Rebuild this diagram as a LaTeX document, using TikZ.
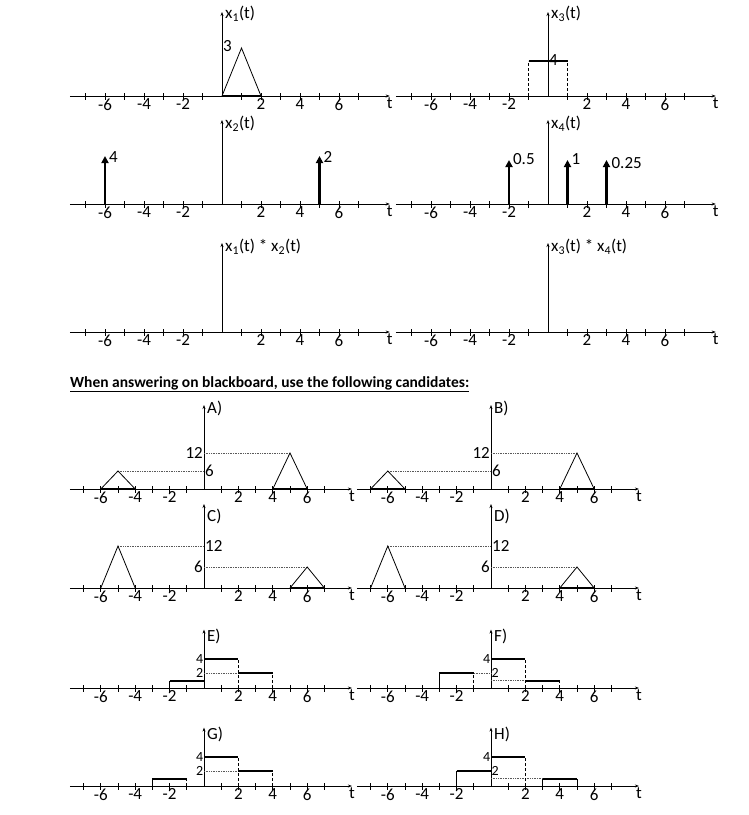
\documentclass[tikz,border=0pt]{standalone}
\usepackage{fontspec}
\setmainfont{Carlito}
\usetikzlibrary{arrows.meta}
\tikzset{
  ax/.style={line width=0.6pt,-{Stealth[length=4pt,width=3pt]}},
  tk/.style={line width=1pt},
  sig/.style={line width=0.8pt},
  thk/.style={line width=2pt},
  dsh/.style={line width=0.7pt,dash pattern=on 3pt off 2pt},
  dot/.style={line width=0.7pt,densely dotted,gray!70!black},
  imp/.style={line width=2.4pt,-{Triangle[length=7pt,width=7pt]}},
  lbl/.style={font=\fontsize{17}{19}\selectfont,inner sep=1pt},
  slbl/.style={font=\fontsize{14}{15}\selectfont,inner sep=0.5pt},
}
\newcommand\axpanel[6]{% ox, ay, u, hs, top (in units), name
\begin{scope}[xshift=#1pt,yshift=-#2pt,x=#3pt,y=#4pt]
\draw[ax] (-7.8,0) -- (8.6,0);
\node[lbl,anchor=north] (#6t) at (8.6,-1pt) {t};
\foreach \k in {-7,...,-1,1,2,...,7} \draw[tk] (\k,-3.5pt) -- (\k,3.5pt);
\foreach \k in {-6,-4,-2,2,4,6} \node[lbl,anchor=north] at (\k,-1.5pt) {\k};
\draw[ax] (0,0) -- (0,#5);
\end{scope}}
\begin{document}
\begin{tikzpicture}[x=1pt,y=-1pt]
\path[fill=white] (0,0) rectangle (749,815);
% Row 1
\axpanel{222}{96}{19.5}{1}{84}{p1}
\node[lbl,anchor=west] (l1) at (224,14) {x\textsubscript{1}(t)};
\begin{scope}[xshift=222pt,yshift=-96pt,x=19.5pt,y=1pt]
\draw[sig] (0,0) -- (1,48) -- (2,0); \draw[thk] (0,0) -- (2,0);
\node[lbl,anchor=north west] (v3) at (0,57) {3};
\end{scope}
\axpanel{548}{96}{19.5}{1}{84}{p3}
\node[lbl,anchor=west] (l3) at (550,14) {x\textsubscript{3}(t)};
\begin{scope}[xshift=548pt,yshift=-96pt,x=19.5pt,y=1pt]
\draw[dsh] (-1,0) -- (-1,35); \draw[dsh] (1,0) -- (1,35);
\draw[thk] (-1,35) -- (1,35);
\node[lbl,anchor=south west] (v4) at (0,29) {4};
\end{scope}
% Row 2
\axpanel{222}{204}{19.5}{1}{84}{p2}
\node[lbl,anchor=west] (l2) at (224,124) {x\textsubscript{2}(t)};
\begin{scope}[xshift=222pt,yshift=-204pt,x=19.5pt,y=1pt]
\draw[imp] (-6,0) -- (-6,48); \node[lbl,anchor=south west] at (-5.85,40) {4};
\draw[imp] (5,0) -- (5,48); \node[lbl,anchor=south west] at (5.15,40) {2};
\end{scope}
\axpanel{548}{204}{19.5}{1}{84}{p4}
\node[lbl,anchor=west] (l4) at (550,124) {x\textsubscript{4}(t)};
\begin{scope}[xshift=548pt,yshift=-204pt,x=19.5pt,y=1pt]
\draw[imp] (-2,0) -- (-2,44); \node[lbl,anchor=south west] at (-1.85,38) {0.5};
\draw[imp] (1,0) -- (1,44); \node[lbl,anchor=south west] at (1.15,38) {1};
\draw[imp] (3,0) -- (3,44); \node[lbl,anchor=south west] at (3.2,34) {0.25};
\end{scope}
% Row 3
\axpanel{222}{332}{19.5}{1}{89}{p5}
\node[lbl,anchor=west] (l5) at (224,247) {x\textsubscript{1}(t) * x\textsubscript{2}(t)};
\axpanel{548}{332}{19.5}{1}{89}{p6}
\node[lbl,anchor=west] (l6) at (550,247) {x\textsubscript{3}(t) * x\textsubscript{4}(t)};
% heading
\node[anchor=west,inner sep=0pt,font=\fontsize{15.5}{18}\selectfont\bfseries] (hd) at (70,384) {\underline{When answering on blackboard, use the following candidates:}};
% A
\axpanel{204}{489}{17.2}{3}{28}{pA}
\node[lbl,anchor=west] at (206,408) {A)};
\begin{scope}[xshift=204pt,yshift=-489pt,x=17.2pt,y=3pt]
\draw[dot] (-5,6) -- (0,6); \draw[dot] (0,12) -- (5,12);
\draw[sig] (-6,0) -- (-5,6) -- (-4,0); \draw[thk] (-6,0) -- (-4,0);
\draw[sig] (4,0) -- (5,12) -- (6,0); \draw[thk] (4,0) -- (6,0);
\node[lbl,anchor=east] at (0,12) {12}; \node[lbl,anchor=west] at (0,6) {6};
\end{scope}
% B
\axpanel{491}{489}{17.2}{3}{28}{pB}
\node[lbl,anchor=west] at (493,408) {B)};
\begin{scope}[xshift=491pt,yshift=-489pt,x=17.2pt,y=3pt]
\draw[dot] (-6,6) -- (0,6); \draw[dot] (0,12) -- (5,12);
\draw[sig] (-7,0) -- (-6,6) -- (-5,0); \draw[thk] (-7,0) -- (-5,0);
\draw[sig] (4,0) -- (5,12) -- (6,0); \draw[thk] (4,0) -- (6,0);
\node[lbl,anchor=east] at (0,12) {12}; \node[lbl,anchor=west] at (0,6) {6};
\end{scope}
% C
\axpanel{204}{588}{17.2}{3.5}{24}{pC}
\node[lbl,anchor=west] at (206,516) {C)};
\begin{scope}[xshift=204pt,yshift=-588pt,x=17.2pt,y=3.5pt]
\draw[dot] (-5,12) -- (0,12); \draw[dot] (0,6) -- (6,6);
\draw[sig] (-6,0) -- (-5,12) -- (-4,0);
\draw[sig] (5,0) -- (6,6) -- (7,0); \draw[thk] (5,0) -- (7,0);
\node[lbl,anchor=west] at (0,12) {12}; \node[lbl,anchor=east] at (0,6) {6};
\end{scope}
% D
\axpanel{491}{588}{17.2}{3.5}{24}{pD}
\node[lbl,anchor=west] at (493,516) {D)};
\begin{scope}[xshift=491pt,yshift=-588pt,x=17.2pt,y=3.5pt]
\draw[dot] (-6,12) -- (0,12); \draw[dot] (0,6) -- (5,6);
\draw[sig] (-7,0) -- (-6,12) -- (-5,0);
\draw[sig] (4,0) -- (5,6) -- (6,0); \draw[thk] (4,0) -- (6,0);
\node[lbl,anchor=west] at (0,12) {12}; \node[lbl,anchor=east] at (0,6) {6};
\end{scope}
% E
\axpanel{204}{688}{17.2}{7.3}{8}{pE}
\node[lbl,anchor=west] at (206,636) {E)};
\begin{scope}[xshift=204pt,yshift=-688pt,x=17.2pt,y=7.3pt]
\draw[dot] (0,2) -- (2,2);
\draw[sig] (-2,0) -- (-2,1); \draw[thk] (-2,1) -- (0,1);
\draw[thk] (0,4) -- (2,4); \draw[dsh] (2,0) -- (2,4);
\draw[thk] (2,2) -- (4,2); \draw[dsh] (4,0) -- (4,2);
\node[slbl,anchor=east] at (0,4) {4}; \node[slbl,anchor=east] at (0,2) {2};
\end{scope}
% F
\axpanel{491}{688}{17.2}{7.3}{8}{pF}
\node[lbl,anchor=west] at (493,636) {F)};
\begin{scope}[xshift=491pt,yshift=-688pt,x=17.2pt,y=7.3pt]
\draw[dot] (-1,2) -- (0,2); \draw[dot] (0,1) -- (2,1);
\draw[sig] (-3,0) -- (-3,2); \draw[thk] (-3,2) -- (-1,2); \draw[dsh] (-1,0) -- (-1,2);
\draw[thk] (0,4) -- (2,4); \draw[dsh] (2,0) -- (2,4);
\draw[thk] (2,1) -- (4,1); \draw[dsh] (4,0) -- (4,1);
\node[slbl,anchor=east] at (0,4) {4}; \node[slbl,anchor=west] at (0,2) {2};
\end{scope}
% G
\axpanel{204}{786}{17.2}{7.3}{8}{pG}
\node[lbl,anchor=west] at (206,734) {G)};
\begin{scope}[xshift=204pt,yshift=-786pt,x=17.2pt,y=7.3pt]
\draw[dot] (0,2) -- (2,2);
\draw[sig] (-3,0) -- (-3,1); \draw[thk] (-3,1) -- (-1,1); \draw[dsh] (-1,0) -- (-1,1);
\draw[thk] (0,4) -- (2,4); \draw[dsh] (2,0) -- (2,4);
\draw[thk] (2,2) -- (4,2); \draw[dsh] (4,0) -- (4,2);
\node[slbl,anchor=east] at (0,4) {4}; \node[slbl,anchor=east] at (0,2) {2};
\end{scope}
% H
\axpanel{491}{786}{17.2}{7.3}{8}{pH}
\node[lbl,anchor=west] at (493,734) {H)};
\begin{scope}[xshift=491pt,yshift=-786pt,x=17.2pt,y=7.3pt]
\draw[dot] (0,1) -- (3,1);
\draw[sig] (-2,0) -- (-2,2); \draw[thk] (-2,2) -- (0,2);
\draw[thk] (0,4) -- (2,4); \draw[dsh] (2,0) -- (2,4);
\draw[sig] (3,0) -- (3,1); \draw[thk] (3,1) -- (5,1); \draw[sig] (5,0) -- (5,1);
\node[slbl,anchor=east] at (0,4) {4}; \node[slbl,anchor=west] at (0,2) {2};
\end{scope}
\end{tikzpicture}
\end{document}
